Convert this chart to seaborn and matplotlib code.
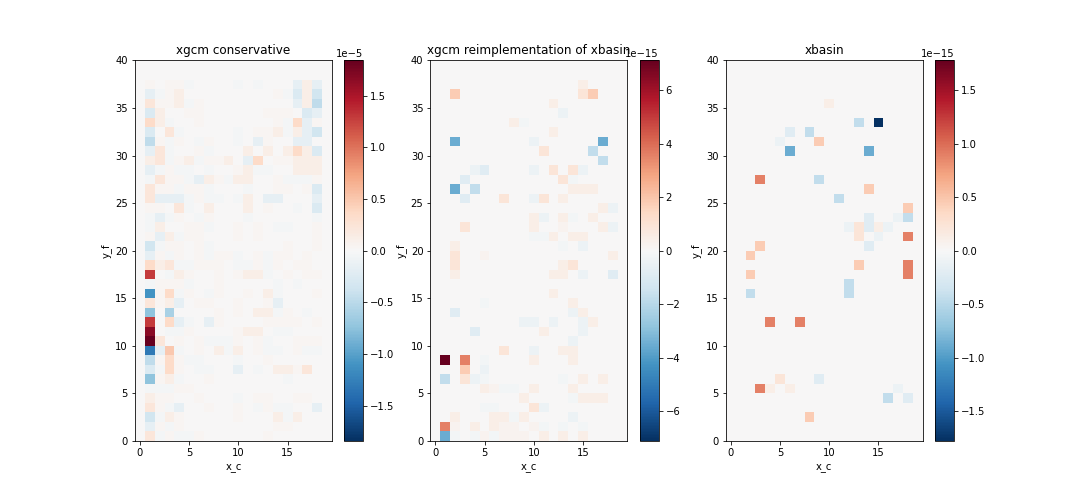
import matplotlib
matplotlib.use("Agg")
import matplotlib.pyplot as plt
import numpy as np
import seaborn as sns

# each string is one row of cells (x_c = 0..19), listed from the top row (y 39) down to y 0
conservative_rows = [
    "....................",
    "....................",
    ".a.aaA....A.A...BbB.",
    ".BAab.........aACbD.",
    ".caabAa.........BbE.",
    ".Cb..aa......aaa.CB.",
    ".dbA..a.......aAdBa.",
    ".C.cA.....A.aabAbBD.",
    ".EaAa.Aa..A.Ba..BB..",
    ".BcA..aA...b.b.bdbC.",
    ".bcAabAaab.Bd.aabbb.",
    ".BAaAA.A..abAA..bbb.",
    ".AcaaABbaAbb..aAAAa.",
    ".caaAaaA...A..aa.aC.",
    ".cBBBAaAA.Ab.BB...B.",
    ".aa.cA.b...b.a..A.C.",
    ".ABAa.Aa...A......A.",
    ".Ab..aaA..a.a.AA..a.",
    ".aBbAaa...a.a.....a.",
    ".DAaa.aA.......a..a.",
    ".BaAa.aAaaA.aAaa.a..",
    ".dbcAAaaa.AAaAa.aa..",
    ".f.Aba..a.abbA.a.aa.",
    ".AaaaA..a.....A.A...",
    ".HadAa.Aa..a.bA...a.",
    ".cabB.aa..a..aB.....",
    ".G.F....a.a.bbAa.A..",
    ".f.dBA.Ba....aaaa.a.",
    ".g.AAa....abb.AA....",
    ".hc.a.aAAAa.aA..aaa.",
    ".IBeA.a.bAb.aAA.aAA.",
    ".EadaAA...A..a......",
    ".CAda.AA..B.A.bbac..",
    ".GabA..a.......A....",
    ".AAAaa..............",
    ".baa..a...A.aa..aa..",
    ".caAB..a..a.AaAA..B.",
    ".DAba.....a...bAb...",
    ".BaAa.........aa....",
    ".cAaAAa......a......",
]
# level of each letter, in 1e-5
conservative_levels = {
    ".": 0.0, "a": 0.04, "b": 0.12, "c": 0.22, "d": 0.35, "e": 0.5,
    "f": 1.29, "g": 1.66, "h": 1.84,
    "A": -0.04, "B": -0.16, "C": -0.26, "D": -0.35, "E": -0.47,
    "F": -0.59, "G": -0.74, "H": -1.1, "I": -1.32,
}

reimpl_rows = [
    "....................",
    "....................",
    "...............b....",
    "..d............cd...",
    "............b.......",
    ".............B......",
    "........bA..........",
    "............b.......",
    "..E.......B......E..",
    "...........c....D...",
    ".................D..",
    "....BC....B.c.cB....",
    "...C.........cA.....",
    "..E.D.........bbb...",
    "...C...c..Bc.b......",
    ".................bB.",
    "..........bB.bA.b...",
    "...c......b..a...bB.",
    "..........AAb.bb....",
    "..b..........A.B....",
    "..c..a............b.",
    "..c..........bc.....",
    "..b.........bb.B..C.",
    "....................",
    "............b.......",
    ".....A........b.....",
    "..C...........Bb....",
    ".........BB.B..Bb...",
    "....C......b...B....",
    "..............B.....",
    ".......c..B..bb.....",
    ".f.e.A....b...b.....",
    "...d.B..............",
    ".D.cBA.......A.b.b..",
    ".....baAA.b...b.....",
    ".........b....Abbb..",
    ".....AA...cB........",
    "..b...bbAb....B.....",
    ".ea.b.baa.aA.A.A....",
    ".EA.AaAaaa.b.b.b....",
]

xbasin_rows = [
    "....................",
    "....................",
    "....................",
    "....................",
    "..........a.........",
    "....................",
    ".............C.E....",
    "......B.C...........",
    ".....A...c..........",
    "......D.......D.....",
    "....................",
    "....................",
    "...d.....C..........",
    "..............c.....",
    "...........C........",
    "..................c.",
    "..............B..AC.",
    "............AbBaA...",
    ".............b.A..d.",
    "...c..........B.....",
    "..c.................",
    ".............c....d.",
    "..c...............d.",
    "............C.......",
    "..C.........C.......",
    "....................",
    "....................",
    "....d..d............",
    "....................",
    "....................",
    "....................",
    "....................",
    "....................",
    ".....b...B..........",
    "...da.a..........A..",
    "................C.B.",
    "....................",
    "........c...........",
    "....................",
    "....................",
]
# round-off steps: multiples of a power of two
step_levels = {
    ".": 0, "a": 1, "b": 2, "c": 4, "d": 8, "e": 16, "f": 32,
    "A": -1, "B": -2, "C": -4, "D": -8, "E": -16, "F": -32,
}
reimpl_unit = 2.0 ** -52
xbasin_unit = 2.0 ** -53

titles = ["xgcm conservative", "xgcm reimplementation of xbasin", "xbasin"]
x_ticks = [0, 5, 10, 15]
y_ticks = [0, 5, 10, 15, 20, 25, 30, 35, 40]


def decode(rows, levels, unit):
    grid = np.array([[levels[ch] for ch in row] for row in rows], dtype=float)
    return grid[::-1] * unit


fields = [
    decode(conservative_rows, conservative_levels, 1e-5),
    decode(reimpl_rows, step_levels, reimpl_unit),
    decode(xbasin_rows, step_levels, xbasin_unit),
]

fig, axes = plt.subplots(1, 3, figsize=(15, 7))
fig.subplots_adjust(bottom=0.125, top=0.88)

for ax, field, title in zip(axes, fields, titles):
    vmax = np.abs(field).max()
    sns.heatmap(field, ax=ax, cmap="RdBu_r", vmin=-vmax, vmax=vmax,
                xticklabels=False, yticklabels=False)
    ax.set_ylim(0, field.shape[0])
    ax.set_xlim(0, field.shape[1])
    # heatmap cells sit on [i, i+1]; the x coordinate is the cell centre
    ax.set_xticks([v + 0.5 for v in x_ticks])
    ax.set_xticklabels([str(v) for v in x_ticks], rotation=0)
    ax.set_yticks(y_ticks)
    ax.set_yticklabels([str(v) for v in y_ticks], rotation=0)
    ax.tick_params(length=3.5, width=0.8, labelsize=10)
    for spine in ax.spines.values():
        spine.set_visible(True)
        spine.set_linewidth(0.8)
    ax.set_xlabel("x_c")
    ax.set_ylabel("y_f")
    ax.set_title(title)
    cbar = ax.collections[0].colorbar
    cbar.outline.set_linewidth(0.8)
    cbar.ax.tick_params(length=3.5, width=0.8, labelsize=10)

fig.savefig("out.png", dpi=72)
